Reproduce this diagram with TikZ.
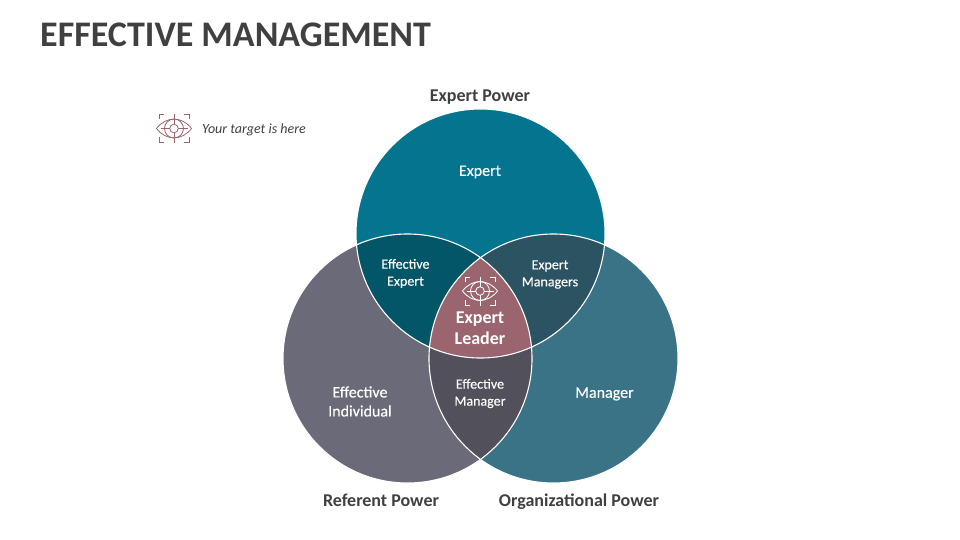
\documentclass[tikz,border=0pt]{standalone}
\usepackage{fontspec}
\setmainfont{Carlito}
\newfontfamily\semifont[FakeBold=0.25]{Carlito}
\definecolor{cTop}{HTML}{05758F}
\definecolor{cLeft}{HTML}{6A6A78}
\definecolor{cRight}{HTML}{3A7286}
\definecolor{cTL}{HTML}{025668}
\definecolor{cTR}{HTML}{2B5361}
\definecolor{cLR}{HTML}{51505B}
\definecolor{cMid}{HTML}{9B6570}
\definecolor{cText}{HTML}{404040}
\newcommand{\vr}{124.5}
\newcommand{\eyeicon}[3]{%
\begin{scope}[shift={(#1,#2)},draw=#3,line width=0.8pt,line cap=butt]
 \draw (-17.5,0) .. controls (-8,-12.5) and (8,-12.5) .. (17.5,0) .. controls (8,12.5) and (-8,12.5) .. (-17.5,0) -- cycle;
 \draw (0,0) circle (9.5);
 \draw (0,0) circle (4.3);
 \draw (-13.5,0) -- (-4.3,0) (4.3,0) -- (13.5,0);
 \draw (0,-14.5) -- (0,-4.3) (0,4.3) -- (0,14.5);
 \draw (-15,-9) -- (-15,-14) -- (-10,-14);
 \draw (15,-9) -- (15,-14) -- (10,-14);
 \draw (-15,9) -- (-15,14) -- (-10,14);
 \draw (15,9) -- (15,14) -- (10,14);
\end{scope}}
\tikzset{
 x=1pt,y=-1pt,
 venn/.style={circle,inner sep=0pt,minimum size=249pt,fill=#1},
 ring/.style={draw=white,line width=1.1pt},
 head/.style={font=\fontsize{18}{21}\selectfont\bfseries,text=cText,inner sep=0pt,anchor=base},
 big/.style={font=\semifont\fontsize{16}{19}\selectfont,text=white,inner sep=0pt,align=center},
 small/.style={font=\semifont\fontsize{14}{17}\selectfont,text=white,inner sep=0pt,align=center},
 mid/.style={font=\fontsize{18}{21}\selectfont\bfseries,text=white,inner sep=0pt,align=center},
}
\begin{document}
\begin{tikzpicture}
\useasboundingbox (0,0) rectangle (960,540);
\coordinate (T) at (480.5,233.5);
\coordinate (L) at (407.5,358.5);
\coordinate (R) at (553.5,358.5);
\node[venn=cLeft] (cl) at (L) {};
\node[venn=cRight] (cr) at (R) {};
\node[venn=cTop] (ct) at (T) {};
\begin{scope}\clip (T) circle (\vr); \fill[cTL] (L) circle (\vr); \end{scope}
\begin{scope}\clip (T) circle (\vr); \fill[cTR] (R) circle (\vr); \end{scope}
\begin{scope}\clip (L) circle (\vr); \fill[cLR] (R) circle (\vr); \end{scope}
\begin{scope}\clip (T) circle (\vr); \clip (L) circle (\vr); \fill[cMid] (R) circle (\vr); \end{scope}
\draw[ring] (T) circle (\vr) (L) circle (\vr) (R) circle (\vr);
\node[anchor=west,inner sep=0pt,font=\fontsize{36}{40}\selectfont\bfseries,text=cText] (title) at (40,34.5) {EFFECTIVE MANAGEMENT};
\node[head] (h1) at (480,101.5) {Expert Power};
\node[head] (h2) at (381,506) {Referent Power};
\node[head] (h3) at (579,506) {Organizational Power};
\node[big] (n1) at (480,172) {Expert};
\node[big] (n2) at (360,401.5) {Effective\\Individual};
\node[big] (n3) at (604.5,394) {Manager};
\node[small] (n4) at (405.5,273.5) {Effective\\Expert};
\node[small] (n5) at (550,274.5) {Expert\\Managers};
\node[small] (n6) at (480,393.5) {Effective\\Manager};
\node[mid] (n7) at (480,328) {Expert\\Leader};
\eyeicon{480}{291}{white}
\eyeicon{174}{128.5}{cMid}
\node[anchor=west,inner sep=0pt,font=\fontsize{14}{16}\selectfont\itshape,text=cText] (lg) at (202,129.5) {Your target is here};
\end{tikzpicture}
\end{document}
